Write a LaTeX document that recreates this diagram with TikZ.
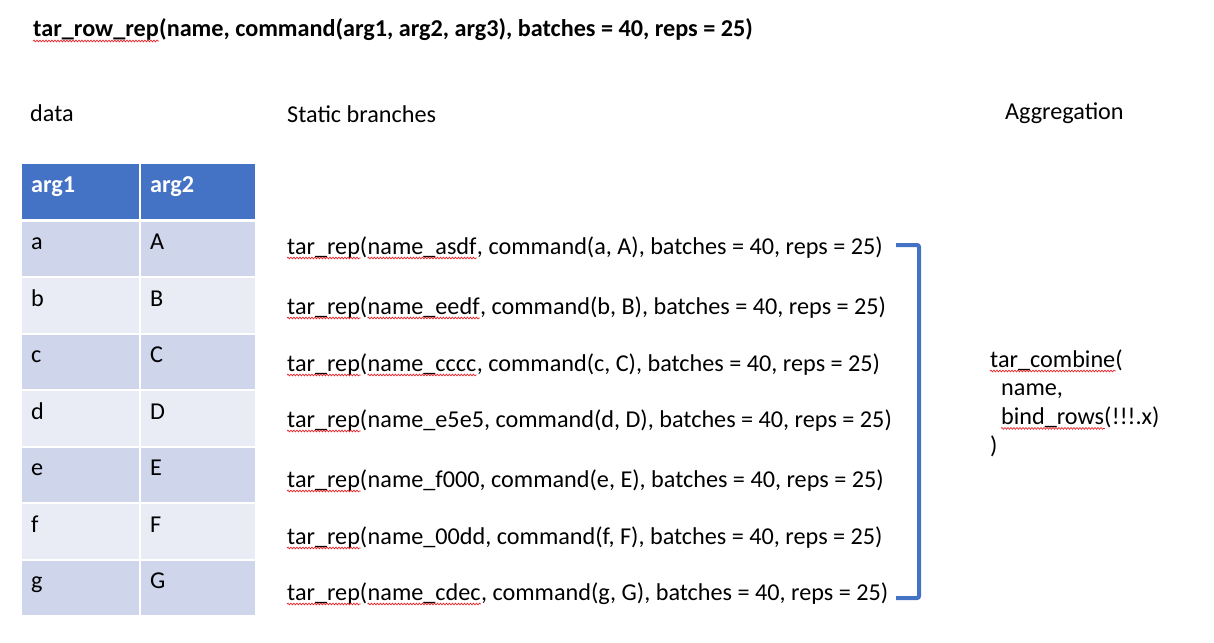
\documentclass[tikz,border=0pt]{standalone}
\usepackage{fontspec}
\setmainfont{Carlito}
\usetikzlibrary{decorations.pathmorphing}
\definecolor{hdblue}{HTML}{4472C4}
\definecolor{rowdark}{HTML}{CFD5EA}
\definecolor{rowlight}{HTML}{E9EBF5}
\definecolor{spellred}{HTML}{E8262A}
\begin{document}
\begin{tikzpicture}[x=1pt,y=-1pt,
        every node/.style={font=\fontsize{24.2}{28.7}\selectfont},
        cell/.style={anchor=north west,inner xsep=9pt,inner ysep=0pt,text height=28pt,text depth=26.5pt,align=left},
        colone/.style={cell,text width=99pt},
        coltwo/.style={cell,text width=95.5pt},
        branch/.style={anchor=base west,inner sep=0pt},
        spell/.style={draw=spellred,line width=0.7pt,decorate,decoration={snake,segment length=3pt,amplitude=0.9pt}},
        bracket/.style={draw=hdblue,line width=4pt,rounded corners=2pt}]
            \useasboundingbox (0,0) rectangle (1214,642);
            \node (title) at (33,37) [branch] {\textbf{tar\_row\_rep}};
            \node (titlerest) at (title.base east) [branch] {\textbf{(name, command(arg1, arg2, arg3), batches = 40, reps = 25)}};
            \draw[spell] ([yshift=-4pt]title.base west) -- ([yshift=-4pt]title.base east);
            \node (data) at (30,121) [branch] {data};
            \node (static) at (287,122) [branch] {Static branches};
            \node (aggr) at (1005,119) [branch] {Aggregation};
            \node (hd1) at (22,164) [colone,fill=hdblue,text=white] {\textbf{arg1}};
            \node (hd2) at (141,164) [coltwo,fill=hdblue,text=white] {\textbf{arg2}};
            \node (a1) at (22,221.5) [colone,fill=rowdark] {a};
            \node (a2) at (141,221.5) [coltwo,fill=rowdark] {A};
            \node (b1) at (22,278) [colone,fill=rowlight] {b};
            \node (b2) at (141,278) [coltwo,fill=rowlight] {B};
            \node (c1) at (22,334.5) [colone,fill=rowdark] {c};
            \node (c2) at (141,334.5) [coltwo,fill=rowdark] {C};
            \node (d1) at (22,391) [colone,fill=rowlight] {d};
            \node (d2) at (141,391) [coltwo,fill=rowlight] {D};
            \node (e1) at (22,447.5) [colone,fill=rowdark] {e};
            \node (e2) at (141,447.5) [coltwo,fill=rowdark] {E};
            \node (f1) at (22,504) [colone,fill=rowlight] {f};
            \node (f2) at (141,504) [coltwo,fill=rowlight] {F};
            \node (g1) at (22,560.5) [colone,fill=rowdark] {g};
            \node (g2) at (141,560.5) [coltwo,fill=rowdark] {G};
            \node (rep1) at (287,254) [branch] {tar\_rep(};
            \node (nm1) at (rep1.base east) [branch] {name\_asdf};
            \node (args1) at (nm1.base east) [branch] {, command(a, A), batches = 40, reps = 25)};
            \node (rep2) at (287,314) [branch] {tar\_rep(};
            \node (nm2) at (rep2.base east) [branch] {name\_eedf};
            \node (args2) at (nm2.base east) [branch] {, command(b, B), batches = 40, reps = 25)};
            \node (rep3) at (287,371) [branch] {tar\_rep(};
            \node (nm3) at (rep3.base east) [branch] {name\_cccc};
            \node (args3) at (nm3.base east) [branch] {, command(c, C), batches = 40, reps = 25)};
            \node (rep4) at (287,427) [branch] {tar\_rep(};
            \node (args4) at (rep4.base east) [branch] {name\_e5e5, command(d, D), batches = 40, reps = 25)};
            \node (rep5) at (287,487) [branch] {tar\_rep(};
            \node (args5) at (rep5.base east) [branch] {name\_f000, command(e, E), batches = 40, reps = 25)};
            \node (rep6) at (287,544) [branch] {tar\_rep(};
            \node (args6) at (rep6.base east) [branch] {name\_00dd, command(f, F), batches = 40, reps = 25)};
            \node (rep7) at (287,600) [branch] {tar\_rep(};
            \node (nm7) at (rep7.base east) [branch] {name\_cdec};
            \node (args7) at (nm7.base east) [branch] {, command(g, G), batches = 40, reps = 25)};
            \draw[spell] ([yshift=-4pt]rep1.base west) -- ([yshift=-4pt,xshift=-7pt]rep1.base east);
            \draw[spell] ([yshift=-4pt]rep2.base west) -- ([yshift=-4pt,xshift=-7pt]rep2.base east);
            \draw[spell] ([yshift=-4pt]rep3.base west) -- ([yshift=-4pt,xshift=-7pt]rep3.base east);
            \draw[spell] ([yshift=-4pt]rep4.base west) -- ([yshift=-4pt,xshift=-7pt]rep4.base east);
            \draw[spell] ([yshift=-4pt]rep5.base west) -- ([yshift=-4pt,xshift=-7pt]rep5.base east);
            \draw[spell] ([yshift=-4pt]rep6.base west) -- ([yshift=-4pt,xshift=-7pt]rep6.base east);
            \draw[spell] ([yshift=-4pt]rep7.base west) -- ([yshift=-4pt,xshift=-7pt]rep7.base east);
            \draw[spell] ([yshift=-4pt]nm1.base west) -- ([yshift=-4pt]nm1.base east);
            \draw[spell] ([yshift=-4pt]nm2.base west) -- ([yshift=-4pt]nm2.base east);
            \draw[spell] ([yshift=-4pt]nm3.base west) -- ([yshift=-4pt]nm3.base east);
            \draw[spell] ([yshift=-4pt]nm7.base west) -- ([yshift=-4pt]nm7.base east);
            \node (comb) at (990,367) [branch] {tar\_combine(};
            \node (combname) at (1001,395.7) [branch] {name,};
            \node (bind) at (1001,424.4) [branch] {bind\_rows(};
            \node (bindarg) at (bind.base east) [branch] {!!!.x)};
            \node (combend) at (990,453.1) [branch] {)};
            \draw[spell] ([yshift=-4pt]comb.base west) -- ([yshift=-4pt,xshift=-7pt]comb.base east);
            \draw[spell] ([yshift=-4pt]bind.base west) -- ([yshift=-4pt,xshift=-7pt]bind.base east);
            \coordinate (brtop) at (896,245);
            \coordinate (brbot) at (896,598);
            \coordinate (brx) at (919,0);
            \draw[bracket] (brtop) -- (brtop -| brx) -- (brbot -| brx) -- (brbot);
        \end{tikzpicture}
\end{document}
